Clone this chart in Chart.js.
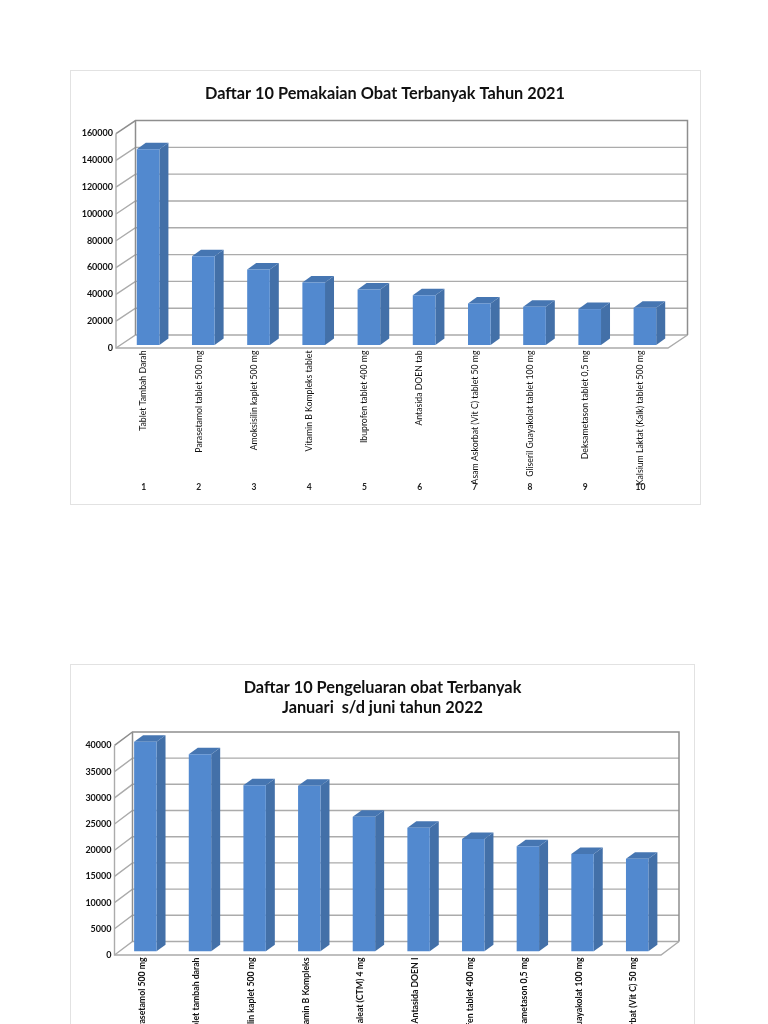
<!DOCTYPE html>
<html>
<head>
<meta charset="utf-8">
<script src="https://cdn.jsdelivr.net/npm/chart.js@4"></script>
<style>
html,body{margin:0;padding:0;background:#fff;width:768px;height:1024px;overflow:hidden}
.card{position:absolute;box-sizing:border-box;border:1px solid #e2e2e2;background:#fff}
canvas{position:absolute}
</style>
</head>
<body>
<div class="card" style="left:70px;top:70px;width:631px;height:435px"></div>
<div class="card" style="left:70px;top:664px;width:625px;height:420px"></div>
<canvas id="c1" width="630" height="434" style="left:70px;top:70px"></canvas>
<canvas id="c2" width="625" height="360" style="left:70px;top:664px"></canvas>
<script>
const labels2021 = ["Tablet Tambah Darah","Parasetamol tablet 500 mg","Amoksisilin kaplet 500 mg","Vitamin B Kompleks tablet","Ibuprofen tablet 400 mg","Antasida DOEN tab","Asam Askorbat (Vit C) tablet 50 mg","Gliseril Guayakolat tablet 100 mg","Deksametason tablet 0,5 mg","Kalsium Laktat (Kalk) tablet 500 mg"];
const ranks2021 = ["1","2","3","4","5","6","7","8","9","10"];
const values2021 = [146000,66200,56300,46600,41400,37200,31000,28500,26800,27800];
const labels2022 = ["Parasetamol 500 mg","Tablet tambah darah","Amoksisilin kaplet 500 mg","Vitamin B Kompleks","Klorfeniramin Maleat (CTM) 4 mg","Antasida DOEN I","Ibuprofen tablet 400 mg","Deksametason 0,5 mg","Gliseril Guayakolat 100 mg","Asam Askorbat (Vit C) 50 mg"];
const values2022 = [40000,37600,31700,31600,25700,23600,21450,20050,18550,17650];

const FONT = "Lato, Carlito, sans-serif";
const FRONT = "#5289CF", SIDE = "#4370A8", TOP = "#4676B2";
const GRID = "#ababab", FRAME = "#8e8e8e";

const box3d = {
  id: "box3d",
  afterLayout(chart) {
    // let the long rotated labels run past their own row, over the rank numbers
    chart.scales.x.bottom = chart.height;
  },
  beforeDatasetsDraw(chart, args, o) {
    const c = chart.ctx, y = chart.scales.y, a = chart.chartArea;
    const dx = o.wallDx, dy = o.wallDy;
    const line = (pts, col, w) => {
      c.beginPath(); c.strokeStyle = col; c.lineWidth = w;
      pts.forEach((p, i) => i ? c.lineTo(p[0], p[1]) : c.moveTo(p[0], p[1]));
      c.stroke();
    };
    c.save();
    y.ticks.forEach(t => {
      const py = y.getPixelForValue(t.value);
      if (t.value === y.max) return;
      line([[a.left, py], [a.left + dx, py + dy], [a.right + dx, py + dy]], GRID, 1.4);
    });
    const ty = y.getPixelForValue(y.max), by = y.getPixelForValue(0);
    line([[a.left, ty], [a.left + dx, ty + dy], [a.right + dx, ty + dy], [a.right + dx, by + dy]], FRAME, 1.5);
    line([[a.left + dx, ty + dy], [a.left + dx, by + dy]], FRAME, 1.5);
    line([[a.left, ty], [a.left, by], [a.right, by], [a.right + dx, by + dy]], GRID, 1.4);
    c.restore();
    c.save();
    c.translate(o.barDx, o.barDy);
    chart.getDatasetMeta(0).data.forEach(b => {
      const l = b.x - b.width / 2, r = b.x + b.width / 2;
      c.fillStyle = SIDE;
      c.beginPath(); c.moveTo(r, b.y); c.lineTo(r + o.barDepthX, b.y + o.barDepthY);
      c.lineTo(r + o.barDepthX, b.base + o.barDepthY); c.lineTo(r, b.base); c.closePath(); c.fill();
      c.fillStyle = TOP;
      c.beginPath(); c.moveTo(l, b.y); c.lineTo(l + o.barDepthX, b.y + o.barDepthY);
      c.lineTo(r + o.barDepthX, b.y + o.barDepthY); c.lineTo(r, b.y); c.closePath(); c.fill();
    });
  },
  afterDatasetsDraw(chart) { chart.ctx.restore(); }
};
Chart.register(box3d);

function build(id, cats, vals, ranks, titleLines, yMax, yStep, g) {
  const scales = {
    y: {
      min: 0, max: yMax,
      grid: { display: false, drawTicks: false }, border: { display: false },
      ticks: { stepSize: yStep, padding: 3, color: "#111", font: { family: FONT, weight: "bold", size: 9 }, callback: v => String(v) },
      afterFit(s) { s.width = g.left; }
    },
    yPad: {
      type: "linear", position: "right", display: true,
      grid: { display: false, drawTicks: false }, border: { display: false },
      ticks: { display: false },
      afterFit(s) { s.width = g.right; }
    },
    x: {
      type: "category",
      grid: { display: false, drawTicks: false }, border: { display: false },
      ticks: { autoSkip: false, minRotation: 90, maxRotation: 90, padding: 2.5, color: "#111", font: { family: FONT, weight: g.labelWeight, size: 8.7 } },
      afterFit(s) { s.height = g.xH; }
    }
  };
  if (ranks) {
    scales.x2 = {
      type: "category", position: "bottom", labels: ranks, offset: true,
      grid: { display: false, drawTicks: false }, border: { display: false },
      ticks: { autoSkip: false, minRotation: 0, maxRotation: 0, padding: 3, color: "#222", font: { family: FONT, weight: "bold", size: 8.5 } },
      afterFit(s) { s.height = g.x2H; }
    };
  }
  return new Chart(document.getElementById(id), {
    type: "bar",
    data: { labels: cats, datasets: [{ data: vals, backgroundColor: FRONT, borderWidth: 0, barPercentage: 0.41, categoryPercentage: 1, clip: false }] },
    options: {
      responsive: false, animation: false, devicePixelRatio: 1,
      layout: { padding: { top: 14, right: 0, bottom: 0, left: 0 } },
      plugins: {
        legend: { display: false }, tooltip: { enabled: false },
        title: { display: true, text: titleLines, color: "#111", font: { family: FONT, weight: "bold", size: g.titleSize, lineHeight: 1.2 }, padding: { top: 0, bottom: g.titleGap } },
        box3d: { wallDx: g.wallDx, wallDy: g.wallDy, barDx: g.barDx, barDy: g.barDy, barDepthX: 9, barDepthY: -6.5 }
      },
      scales
    }
  });
}

build("c1", labels2021, values2021, ranks2021, "Daftar 10 Pemakaian Obat Terbanyak Tahun 2021", 160000, 20000,
  { left: 46, right: 32, xH: 131, x2H: 25, titleSize: 16.3, titleGap: 30, wallDx: 19.5, wallDy: -13, barDx: 4.5, barDy: -3, labelWeight: "normal" });
build("c2", labels2022, values2022, null, ["Daftar 10 Pengeluaran obat Terbanyak", "Januari  s/d juni tahun 2022"], 40000, 5000,
  { left: 44.5, right: 34, xH: 69, x2H: 0, titleSize: 16.3, titleGap: 28.3, wallDx: 18, wallDy: -13.5, barDx: 3.5, barDy: -3.7, labelWeight: "bold" });
</script>
</body>
</html>
